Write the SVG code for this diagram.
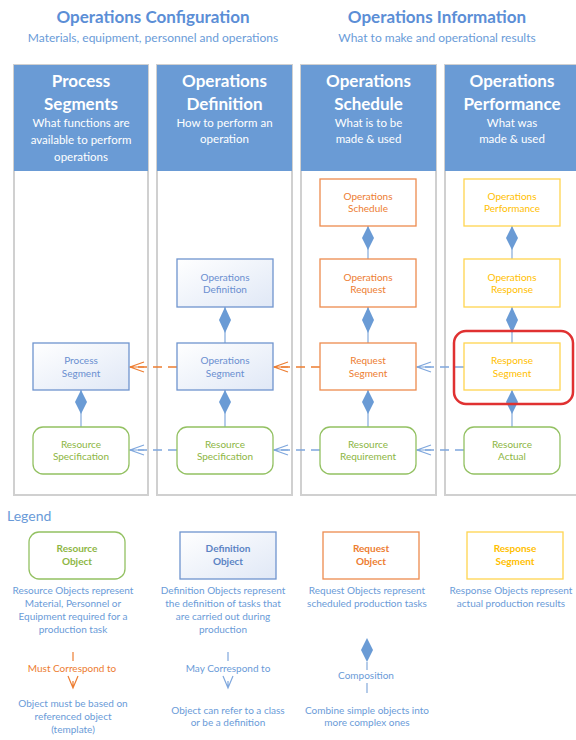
<svg xmlns="http://www.w3.org/2000/svg" width="576" height="740" viewBox="0 0 576 740">
<defs>
<linearGradient id="defg" x1="0" y1="0" x2="1" y2="1">
<stop offset="0" stop-color="#FFFFFF"/>
<stop offset="1" stop-color="#E0E8F6"/>
</linearGradient>
<marker id="arrO" viewBox="0 0 16 12" refX="15" refY="6" markerWidth="16" markerHeight="12" markerUnits="userSpaceOnUse" orient="auto">
<path d="M1,1 L15,6 L1,11 M15,6 L1,6" fill="none" stroke="#ED7D31" stroke-width="1.2"/>
</marker>
<marker id="arrB" viewBox="0 0 16 12" refX="15" refY="6" markerWidth="16" markerHeight="12" markerUnits="userSpaceOnUse" orient="auto">
<path d="M1,1 L15,6 L1,11 M15,6 L1,6" fill="none" stroke="#7FA7DD" stroke-width="1.2"/>
</marker>
</defs>
<style>
text{font-family:Lato,"Liberation Sans",sans-serif;text-anchor:middle}
.t1{font-size:17px;font-weight:bold;fill:#5B8ED6}
.t2{font-size:12px;fill:#6A9BD8}
.colbox{fill:#FFFFFF;stroke:#D0D0D0;stroke-width:2}
.hdr{fill:#6A9BD5}
.h1{font-size:17px;font-weight:bold;fill:#FFFFFF}
.h2{font-size:11.5px;fill:#FFFFFF}
.def{fill:url(#defg);stroke:#6F94CE;stroke-width:1.3}
.req{fill:#FFFFFF;stroke:#ED8B4E;stroke-width:1.3}
.rsp{fill:#FFFFFF;stroke:#FFD54F;stroke-width:1.3}
.res{fill:#FFFFFF;stroke:#93C162;stroke-width:1.3}
.nd{font-size:10px;fill:#6A8FD0}
.no{font-size:10px;fill:#ED7D31}
.ny{font-size:10px;fill:#FFC000}
.ng{font-size:10px;fill:#8DB644}
.dia{fill:#6A9BD5}
.cl{stroke:#8DB0DD;stroke-width:1.3;fill:none}
.dO{stroke:#ED7D31;stroke-width:1.3;stroke-dasharray:9 6;fill:none}
.dB{stroke:#7FA7DD;stroke-width:1.3;stroke-dasharray:9 6;fill:none}
.lg{font-size:10px;fill:#6A9BD8}
.lb{font-size:10px;font-weight:bold}
</style>

<g id="titles">
<text class="t1" x="153" y="23">Operations Configuration</text>
<text class="t2" x="153" y="42">Materials, equipment, personnel and operations</text>
<text class="t1" x="437" y="23">Operations Information</text>
<text class="t2" x="437" y="42">What to make and operational results</text>
</g>

<g id="col-process-segments">
<rect class="colbox" x="14" y="65" width="134" height="430"/>
<rect class="hdr" x="14" y="65" width="134" height="106"/>
<text class="h1" x="81" y="87">Process</text>
<text class="h1" x="81" y="110">Segments</text>
<text class="h2" x="81" y="127">What functions are</text>
<text class="h2" x="81" y="144">available to perform</text>
<text class="h2" x="81" y="161">operations</text>
</g>
<g id="col-operations-definition">
<rect class="colbox" x="157" y="65" width="135" height="430"/>
<rect class="hdr" x="157" y="65" width="135" height="106"/>
<text class="h1" x="224.5" y="87">Operations</text>
<text class="h1" x="224.5" y="110">Definition</text>
<text class="h2" x="224.5" y="127">How to perform an</text>
<text class="h2" x="224.5" y="143">operation</text>
</g>
<g id="col-operations-schedule">
<rect class="colbox" x="301" y="65" width="135" height="430"/>
<rect class="hdr" x="301" y="65" width="135" height="106"/>
<text class="h1" x="368.5" y="87">Operations</text>
<text class="h1" x="368.5" y="110">Schedule</text>
<text class="h2" x="368.5" y="127">What is to be</text>
<text class="h2" x="368.5" y="143">made &amp; used</text>
</g>
<g id="col-operations-performance">
<rect class="colbox" x="445" y="65" width="135" height="430"/>
<rect class="hdr" x="445" y="65" width="135" height="106"/>
<text class="h1" x="512" y="87">Operations</text>
<text class="h1" x="512" y="110">Performance</text>
<text class="h2" x="512" y="127">What was</text>
<text class="h2" x="512" y="143">made &amp; used</text>
</g>

<g id="connectors">
<line class="cl" x1="81" y1="390" x2="81" y2="427"/>
<path class="dia" d="M81,390 L87,402 L81,414 L75,402 Z"/>
<line class="cl" x1="225" y1="307" x2="225" y2="343"/>
<path class="dia" d="M225,307 L231,320 L225,333 L219,320 Z"/>
<line class="cl" x1="225" y1="390" x2="225" y2="427"/>
<path class="dia" d="M225,390 L231,402 L225,414 L219,402 Z"/>
<line class="cl" x1="368" y1="226" x2="368" y2="259"/>
<path class="dia" d="M368,226 L374,238 L368,250 L362,238 Z"/>
<line class="cl" x1="368" y1="307" x2="368" y2="343"/>
<path class="dia" d="M368,307 L374,320 L368,333 L362,320 Z"/>
<line class="cl" x1="368" y1="390" x2="368" y2="427"/>
<path class="dia" d="M368,390 L374,402 L368,414 L362,402 Z"/>
<line class="cl" x1="512" y1="226" x2="512" y2="259"/>
<path class="dia" d="M512,226 L518,238 L512,250 L506,238 Z"/>
<line class="cl" x1="512" y1="307" x2="512" y2="343"/>
<path class="dia" d="M512,307 L518,320 L512,333 L506,320 Z"/>
<line class="cl" x1="512" y1="390" x2="512" y2="427"/>
<path class="dia" d="M512,390 L518,402 L512,414 L506,402 Z"/>
<line class="dO" x1="177" y1="367" x2="130" y2="367" marker-end="url(#arrO)"/>
<line class="dO" x1="320" y1="367" x2="274" y2="367" marker-end="url(#arrO)"/>
<line class="dB" x1="464" y1="367" x2="417" y2="367" marker-end="url(#arrB)"/>
<line class="dB" x1="177" y1="450" x2="130" y2="450" marker-end="url(#arrB)"/>
<line class="dB" x1="320" y1="450" x2="274" y2="450" marker-end="url(#arrB)"/>
<line class="dB" x1="464" y1="450" x2="417" y2="450" marker-end="url(#arrB)"/>
</g>

<g id="process-segment">
<rect class="def" x="33" y="343" width="96" height="47"/>
<text class="nd" x="81" y="364">Process</text>
<text class="nd" x="81" y="377">Segment</text>
</g>
<g id="resource-specification-1">
<rect class="res" x="33" y="427" width="96" height="47" rx="10"/>
<text class="ng" x="81" y="448">Resource</text>
<text class="ng" x="81" y="460">Specification</text>
</g>
<g id="operations-definition">
<rect class="def" x="177" y="259" width="96" height="48"/>
<text class="nd" x="225" y="281">Operations</text>
<text class="nd" x="225" y="293">Definition</text>
</g>
<g id="operations-segment">
<rect class="def" x="177" y="343" width="96" height="47"/>
<text class="nd" x="225" y="364">Operations</text>
<text class="nd" x="225" y="377">Segment</text>
</g>
<g id="resource-specification-2">
<rect class="res" x="177" y="427" width="96" height="47" rx="10"/>
<text class="ng" x="225" y="448">Resource</text>
<text class="ng" x="225" y="460">Specification</text>
</g>
<g id="operations-schedule">
<rect class="req" x="320" y="179" width="96" height="47"/>
<text class="no" x="368" y="200">Operations</text>
<text class="no" x="368" y="212">Schedule</text>
</g>
<g id="operations-request">
<rect class="req" x="320" y="259" width="96" height="48"/>
<text class="no" x="368" y="281">Operations</text>
<text class="no" x="368" y="293">Request</text>
</g>
<g id="request-segment">
<rect class="req" x="320" y="343" width="96" height="47"/>
<text class="no" x="368" y="364">Request</text>
<text class="no" x="368" y="377">Segment</text>
</g>
<g id="resource-requirement">
<rect class="res" x="320" y="427" width="96" height="47" rx="10"/>
<text class="ng" x="368" y="448">Resource</text>
<text class="ng" x="368" y="460">Requirement</text>
</g>
<g id="operations-performance">
<rect class="rsp" x="464" y="179" width="96" height="47"/>
<text class="ny" x="512" y="200">Operations</text>
<text class="ny" x="512" y="212">Performance</text>
</g>
<g id="operations-response">
<rect class="rsp" x="464" y="259" width="96" height="48"/>
<text class="ny" x="512" y="281">Operations</text>
<text class="ny" x="512" y="293">Response</text>
</g>
<g id="response-segment">
<rect class="rsp" x="464" y="343" width="96" height="47"/>
<text class="ny" x="512" y="364">Response</text>
<text class="ny" x="512" y="377">Segment</text>
</g>
<g id="resource-actual">
<rect class="res" x="464" y="427" width="96" height="47" rx="10"/>
<text class="ng" x="512" y="448">Resource</text>
<text class="ng" x="512" y="460">Actual</text>
</g>
<g id="highlight">
<rect x="454" y="331" width="119" height="73" rx="12" fill="none" stroke="#E03131" stroke-width="2.5"/>
</g>

<g id="legend">
<text x="7" y="521" style="font-size:14px;fill:#6A9BD8;text-anchor:start">Legend</text>
<rect class="res" x="29" y="532" width="96" height="47" rx="10"/>
<text class="lb" x="77" y="552" fill="#8DB644">Resource</text>
<text class="lb" x="77" y="565" fill="#8DB644">Object</text>
<rect class="def" x="180" y="532" width="96" height="47"/>
<text class="lb" x="228" y="552" fill="#5B83C4">Definition</text>
<text class="lb" x="228" y="565" fill="#5B83C4">Object</text>
<rect class="req" x="323" y="532" width="96" height="47"/>
<text class="lb" x="371" y="552" fill="#ED7D31">Request</text>
<text class="lb" x="371" y="565" fill="#ED7D31">Object</text>
<rect class="rsp" x="467" y="532" width="96" height="47"/>
<text class="lb" x="515" y="552" fill="#FFC000">Response</text>
<text class="lb" x="515" y="565" fill="#FFC000">Segment</text>

<text class="lg" x="73" y="594">Resource Objects represent</text>
<text class="lg" x="73" y="607">Material, Personnel or</text>
<text class="lg" x="73" y="620">Equipment required for a</text>
<text class="lg" x="73" y="633">production task</text>
<text class="lg" x="223" y="594">Definition Objects represent</text>
<text class="lg" x="223" y="607">the definition of tasks that</text>
<text class="lg" x="223" y="620">are carried out during</text>
<text class="lg" x="223" y="633">production</text>
<text class="lg" x="367" y="594">Request Objects represent</text>
<text class="lg" x="367" y="607">scheduled production tasks</text>
<text class="lg" x="511" y="594">Response Objects represent</text>
<text class="lg" x="511" y="607">actual production results</text>

<line x1="73" y1="652" x2="73" y2="661" stroke="#ED7D31" stroke-width="1.2"/>
<text x="72" y="672" style="font-size:10px;fill:#ED7D31">Must Correspond to</text>
<path d="M68,676 L73,688 L78,676 M73,681 L73,688" fill="none" stroke="#ED7D31" stroke-width="1.2"/>
<text class="lg" x="73" y="707">Object must be based on</text>
<text class="lg" x="73" y="720">referenced object</text>
<text class="lg" x="73" y="733">(template)</text>

<line x1="228" y1="652" x2="228" y2="661" stroke="#7FA7DD" stroke-width="1.2"/>
<text class="lg" x="228" y="672">May Correspond to</text>
<path d="M223,676 L228,688 L233,676 M228,681 L228,688" fill="none" stroke="#7FA7DD" stroke-width="1.2"/>
<text class="lg" x="228" y="714">Object can refer to  a class</text>
<text class="lg" x="228" y="726">or be a definition</text>

<path class="dia" d="M367,638 L373,650 L367,662 L361,650 Z"/>
<line class="cl" x1="367" y1="662" x2="367" y2="670"/>
<text class="lg" x="366" y="679">Composition</text>
<line class="cl" x1="367" y1="683" x2="367" y2="693"/>
<text class="lg" x="367" y="714">Combine simple objects into</text>
<text class="lg" x="367" y="726">more complex ones</text>
</g>
</svg>
